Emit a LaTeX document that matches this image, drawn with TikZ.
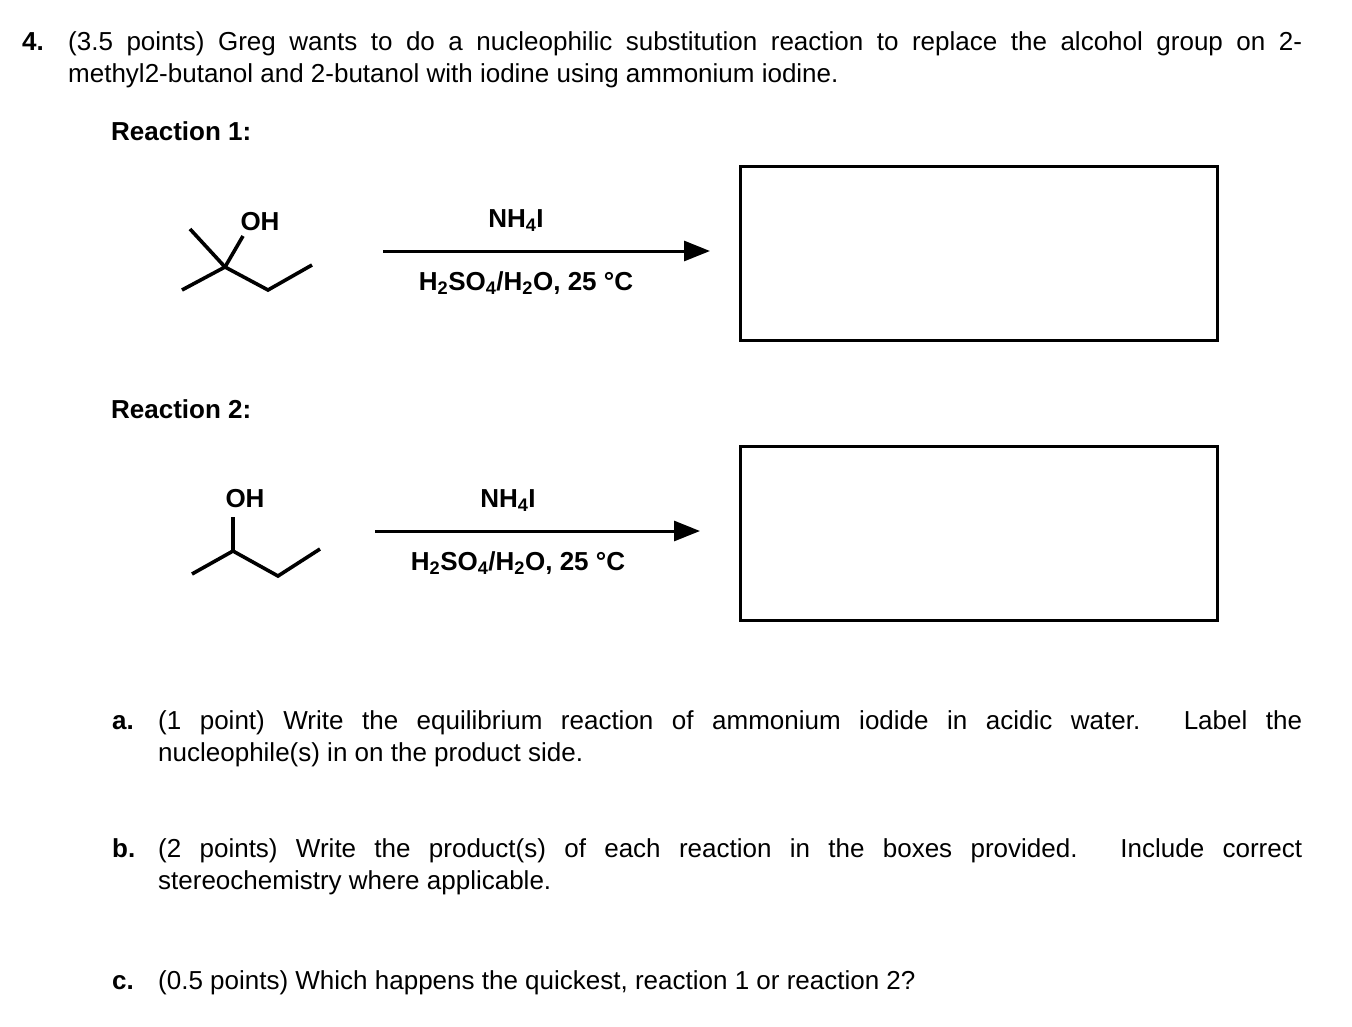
\documentclass[tikz,border=0pt]{standalone}
\usepackage{fontspec}
\setmainfont{Liberation Sans}
\usetikzlibrary{arrows.meta}
\newcommand{\lab}[2]{\makebox[#1][l]{\textbf{#2}}}
\begin{document}
\begin{tikzpicture}[x=1pt,y=-1pt,
  txt/.style={anchor=base west,inner sep=0pt,font=\fontsize{26}{30}\selectfont},
  lbl/.style={inner sep=0pt,font=\bfseries\fontsize{26}{30}\selectfont},
  bond/.style={line width=3.6pt,line cap=butt,line join=miter},
  rxn/.style={line width=3pt,-{Triangle[length=26pt,width=20pt]}},
  ansbox/.style={draw,line width=3pt}]
\useasboundingbox[fill=white] (0,0) rectangle (1352,1026);
\node[txt] (t1) at (22,50) {\lab{46pt}{4.}\makebox[1234pt][s]{(3.5 points) Greg wants to do a nucleophilic substitution reaction to replace the alcohol group on 2-}};
\node[txt] (t2) at (68,82) {methyl2-butanol and 2-butanol with iodine using ammonium iodine.};
\node[txt] (r1) at (111,140) {\textbf{Reaction 1:}};
\node[txt] (r2) at (111,418) {\textbf{Reaction 2:}};
% molecule 1
\coordinate (a1) at (190,229); \coordinate (c1) at (225,267); \coordinate (a2) at (182,290);
\coordinate (o1) at (243,236); \coordinate (m1) at (268,290); \coordinate (e1) at (312,265);
\draw[bond] (a1)--(c1)--(a2); \draw[bond] (c1)--(o1); \draw[bond] (c1)--(m1)--(e1);
\node[lbl] (oh1) at (260,222) {OH};
% molecule 2
\coordinate (b1) at (192,574); \coordinate (c2) at (233,551); \coordinate (o2) at (233,517);
\coordinate (m2) at (278,576); \coordinate (e2) at (320,549);
\draw[bond] (b1)--(c2)--(m2)--(e2); \draw[bond] (c2)--(o2);
\node[lbl] (oh2) at (245,499) {OH};
% arrows
\coordinate (s1) at (383,251); \coordinate (f1) at (710,251);
\draw[rxn] (s1)--(f1);
\node[lbl] (n1) at (516,221) {NH$_\mathbf{4}$I};
\node[lbl] (h1) at (526,283) {H$_\mathbf{2}$SO$_\mathbf{4}$/H$_\mathbf{2}$O, 25 °C};
\coordinate (s2) at (375,531); \coordinate (f2) at (700,531);
\draw[rxn] (s2)--(f2);
\node[lbl] (n2) at (508,501) {NH$_\mathbf{4}$I};
\node[lbl] (h2) at (518,563) {H$_\mathbf{2}$SO$_\mathbf{4}$/H$_\mathbf{2}$O, 25 °C};
% boxes
\node[ansbox,minimum width=477pt,minimum height=174pt] (box1) at (978.5,253) {};
\node[ansbox,minimum width=477pt,minimum height=174pt] (box2) at (978.5,533) {};
% questions
\node[txt] (qa) at (112,729) {\lab{46pt}{a.}\makebox[1144pt][s]{(1 point) Write the equilibrium reaction of ammonium iodide in acidic water. Label the}};
\node[txt] (qa2) at (158,761) {nucleophile(s) in on the product side.};
\node[txt] (qb) at (112,857) {\lab{46pt}{b.}\makebox[1144pt][s]{(2 points) Write the product(s) of each reaction in the boxes provided. Include correct}};
\node[txt] (qb2) at (158,889) {stereochemistry where applicable.};
\node[txt] (qc) at (112,989) {\lab{46pt}{c.}(0.5 points) Which happens the quickest, reaction 1 or reaction 2?};
\end{tikzpicture}
\end{document}
